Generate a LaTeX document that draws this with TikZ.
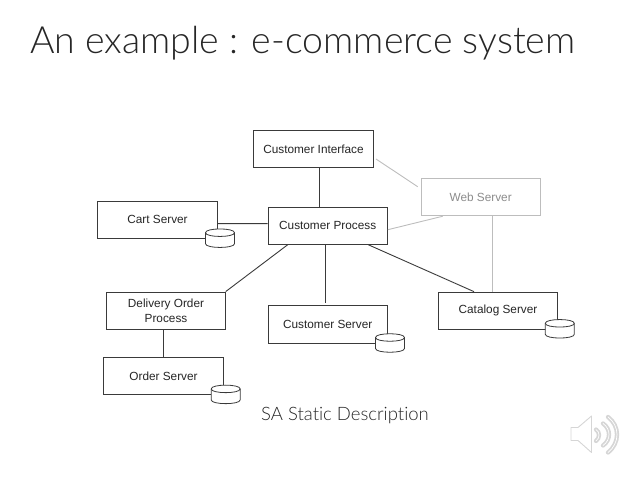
\documentclass[tikz,border=0pt]{standalone}
\usepackage{fontspec}
\setmainfont{Liberation Sans}
\newfontfamily\titlefont[Ligatures=NoCommon]{Lato Light}
\definecolor{ink}{HTML}{3A3A3A}
\definecolor{pale}{HTML}{BDBDBD}
\definecolor{titleink}{HTML}{262626}
\definecolor{spk}{HTML}{D6D6D6}
\tikzset{
  box/.style={draw=ink,line width=0.9pt,fill=white,inner sep=0pt,minimum width=119.5pt,minimum height=37pt,align=center,font=\fontsize{11.8}{15}\selectfont,text=black!85},
  webbox/.style={box,draw=pale,text=black!45},
  link/.style={draw=ink,line width=0.9pt},
  palelink/.style={draw=pale,line width=0.9pt},
  wave/.style={draw=spk,line width=1.8pt,line cap=round,double=white,double distance=0.7pt},
  dbdrum/.pic={
    \path[draw=ink,line width=0.8pt,fill=white] (-14.5,-5.5) -- (-14.5,5.5) .. controls (-14.5,10.5) and (14.5,10.5) .. (14.5,5.5) -- (14.5,-5.5) .. controls (14.5,-10.5) and (-14.5,-10.5) .. (-14.5,-5.5) -- cycle;
    \path[draw=ink,line width=0.8pt] (-14.5,-5.5) .. controls (-14.5,-0.5) and (14.5,-0.5) .. (14.5,-5.5);
  },
}
\begin{document}
\begin{tikzpicture}[x=1pt,y=-1pt]
\useasboundingbox (0,0) rectangle (638,478);
\node[anchor=west,font=\titlefont\fontsize{37.5}{44}\selectfont,text=titleink] (title) at (26.5,43.5) {An example : e-commerce system};
\node[font=\titlefont\fontsize{18.5}{22}\selectfont,text=titleink] (caption) at (345,415.5) {SA Static Description};

\node[box] (ci) at (313.5,149.2) {Customer Interface};
\node[box] (cp) at (327.7,225.8) {Customer Process};
\node[box] (cart) at (157.5,219.6) {Cart Server};
\node[webbox] (web) at (480.7,197.3) {Web Server};
\node[box] (cat) at (498,310.6) {Catalog Server};
\node[box,minimum width=118.6pt] (del) at (166,310.5) {Delivery Order\\Process};
\node[box,minimum height=37.6pt] (cs) at (327.7,324.5) {Customer Server};
\node[box] (os) at (163.5,375.8) {Order Server};

\pic at (220,238.2) {dbdrum};
\pic at (390,343) {dbdrum};
\pic at (225.7,394.4) {dbdrum};
\pic at (559.8,328.8) {dbdrum};

\draw[link] ([xshift=5.5pt]ci.south) -- ([xshift=-8.7pt]cp.north);
\draw[link] ([yshift=-4.1pt]cart.east) -- ([yshift=2.1pt]cp.west);
\draw[link] ([xshift=-40pt]cp.south) -- (del.north east);
\coordinate (csend) at (325,303.3);
\draw[link] (cp.south -| csend) -- (csend);
\draw[link] ([xshift=40.6pt]cp.south) -- ([xshift=-24pt]cat.north);
\draw[link] ([xshift=-3pt]del.south) -- ([xshift=-0.5pt]os.north);

\coordinate (ciend) at (376,159);
\coordinate (webend) at (417.7,186.7);
\draw[palelink] (ciend) -- (webend);
\draw[palelink] ([yshift=-3.9pt]cp.east) -- ([xshift=-38pt]web.south);
\draw[palelink] ([xshift=11.6pt]web.south) -- ([xshift=-5.7pt]cat.north);

% speaker
\draw[draw=spk,line width=0.9pt,fill=white,line join=round] (571,427.5) -- (578,427.5) -- (591.5,416) -- (591.5,452.5) -- (578,440.5) -- (571,440.5) -- cycle;
\draw[wave] (596,429.5) .. controls (600,432) and (600,438) .. (596,441);
\draw[wave] (603,423.5) .. controls (611,429) and (611,440) .. (603,445.5);
\draw[wave] (608,417) .. controls (620,426) and (620,443) .. (608,452.5);
\end{tikzpicture}
\end{document}
